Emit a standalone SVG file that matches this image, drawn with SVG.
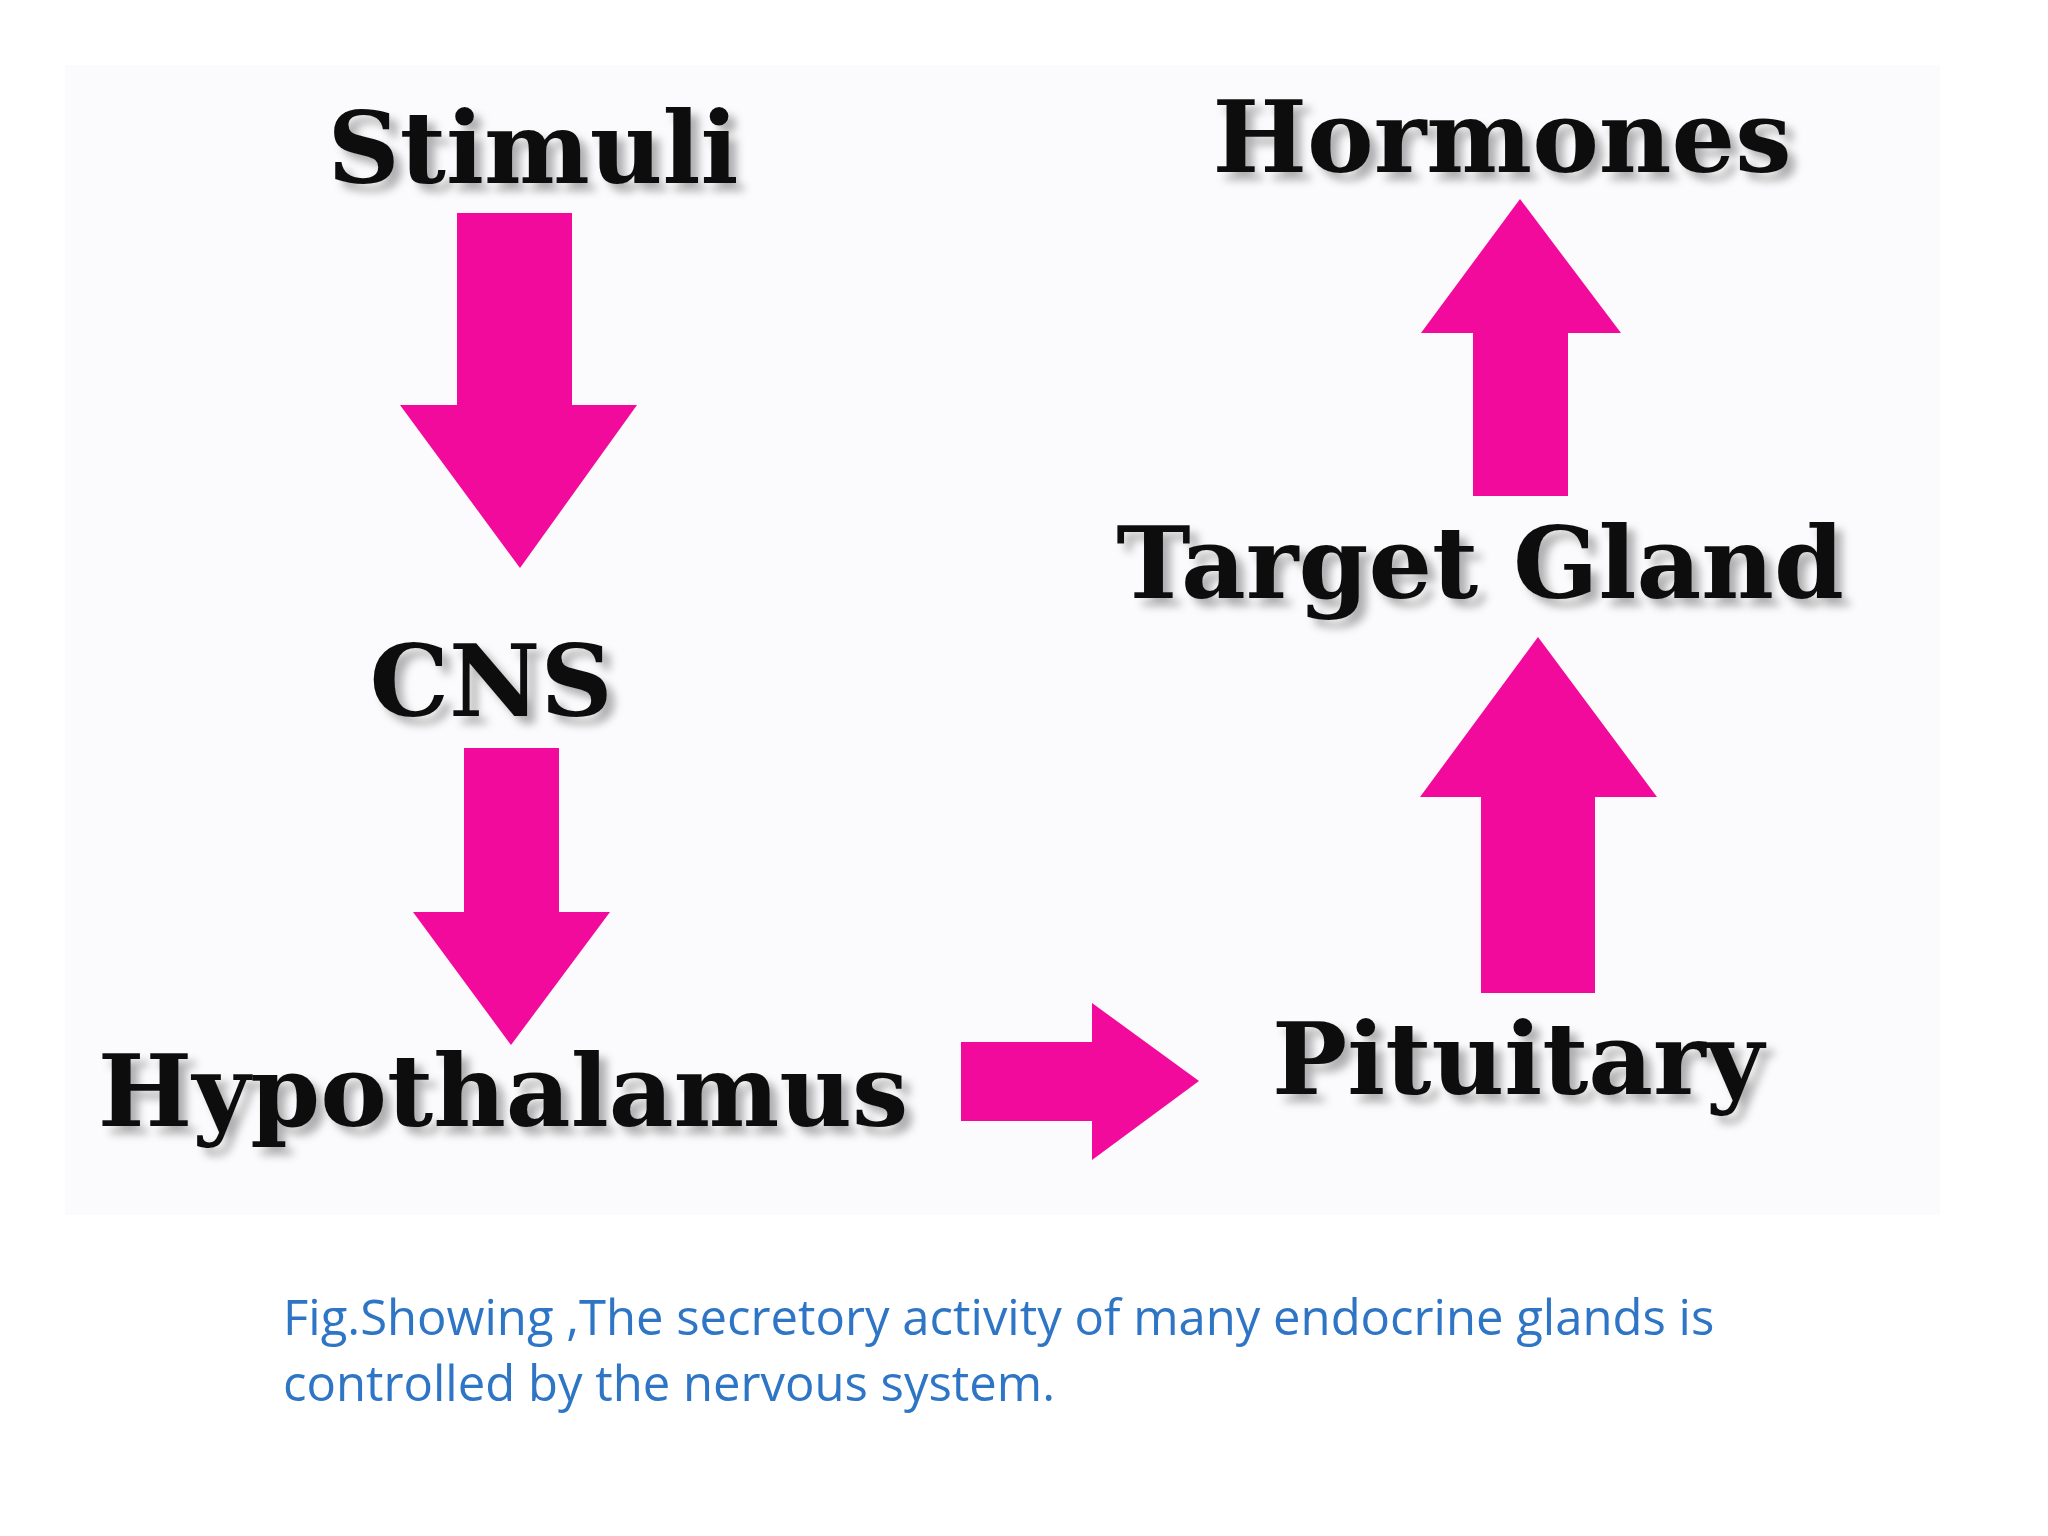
<svg xmlns="http://www.w3.org/2000/svg" width="2048" height="1536" viewBox="0 0 2048 1536">
<defs>
<style>
.lbl{font-family:"DejaVu Serif","Liberation Serif",serif;font-weight:bold;font-size:100px;fill:#111;text-anchor:middle;filter:url(#shadow)}
.arr{fill:#f20a9c}
.cap{font-family:"Open Sans","Liberation Sans",sans-serif;font-size:49px;fill:#2e75c6}
</style>
<filter id="shadow" x="-10%" y="-30%" width="120%" height="160%"><feDropShadow dx="8" dy="8" stdDeviation="4" flood-color="#000" flood-opacity="0.3"/></filter>
</defs>
<rect width="2048" height="1536" fill="#fff"/>
<rect x="65" y="65" width="1875" height="1150" fill="#fbfafc"/>
<g id="stimuli"><text class="lbl" x="533" y="183">Stimuli</text></g>
<g id="cns"><text class="lbl" x="491" y="716">CNS</text></g>
<g id="hypothalamus"><text class="lbl" x="503" y="1126">Hypothalamus</text></g>
<g id="pituitary"><text class="lbl" x="1518" y="1094">Pituitary</text></g>
<g id="target"><text class="lbl" x="1480" y="598">Target Gland</text></g>
<g id="hormones"><text class="lbl" x="1502" y="172">Hormones</text></g>
<g id="connectors">
<polygon class="arr" points="457,213 572,213 572,405 637,405 520,568 400,405 457,405"/>
<polygon class="arr" points="464,748 559,748 559,912 610,912 511,1045 413,912 464,912"/>
<polygon class="arr" points="961,1042 1092,1042 1092,1003 1199,1081 1092,1160 1092,1121 961,1121"/>
<polygon class="arr" points="1481,993 1595,993 1595,797 1657,797 1538,637 1420,797 1481,797"/>
<polygon class="arr" points="1473,496 1568,496 1568,333 1621,333 1520,199 1421,333 1473,333"/>
</g>
<text class="cap" x="283" y="1335">Fig.Showing ,The secretory activity of many endocrine glands is</text>
<text class="cap" x="283" y="1401">controlled by the nervous system.</text>
</svg>
